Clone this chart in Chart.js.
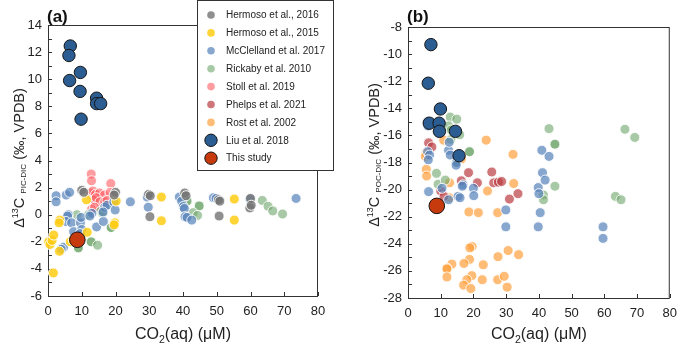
<!DOCTYPE html>
<html lang="en">
<head>
  <meta charset="UTF-8" />
  <title>Δ13C vs CO2(aq)</title>
  <script src="https://cdn.jsdelivr.net/npm/chart.js"></script>
  <style>
    body { margin: 0; background: #fff; width: 685px; height: 345px; overflow: hidden; position: relative; }
    canvas { position: absolute; top: 0; }
    #chartA { left: 0; }
    #chartB { left: 340px; }
  </style>
</head>
<body>
  <canvas id="chartA" width="340" height="345"></canvas>
  <canvas id="chartB" width="345" height="345"></canvas>

  <script>
    // series names (legend order)
    const seriesNames = [
      'Hermoso et al., 2016', 'Hermoso et al., 2015', 'McClelland et al. 2017',
      'Rickaby et al. 2010', 'Stoll et al. 2019', 'Phelps et al. 2021',
      'Rost et al. 2002', 'Liu et al. 2018', 'This study'
    ];

    const xTicks = [0, 10, 20, 30, 40, 50, 60, 70, 80];
    const yTicksA = [-6, -4, -2, 0, 2, 4, 6, 8, 10, 12, 14];
    const yTicksB = [-28, -26, -24, -22, -20, -18, -16, -14, -12, -10, -8];

    // panel (a): [CO2(aq), Δ13C PIC-DIC]
    const aHermoso16 = [[10.0,1.8],[10.6,1.65],[20.0,1.65],[19.6,1.45],[29.8,1.5],[30.3,1.4],[30.2,-0.15],
      [40.5,1.6],[40.9,1.4],[50.5,1.1],[50.9,1.0],[50.7,-0.1],[60.0,1.2],[59.8,0.5],[60.2,0.7]];
    const aHermoso15 = [[0.2,-2.0],[0.6,-2.2],[1.2,-1.9],[1.7,-1.5],[1.6,-4.3],[3.4,-2.7],[3.5,-0.4],[3.3,-0.6],
      [6.6,-2.0],[7.5,-1.9],[11.6,-1.3],[11.4,1.1],[19.8,-0.6],[19.6,-0.75],[20.2,1.0],[33.6,1.3],[33.6,-0.45],
      [55.2,1.15],[55.2,-0.4]];
    const aMcClelland = [[2.4,1.4],[2.4,0.95],[5.4,1.45],[6.4,1.65],[6.0,0.0],[5.8,-0.1],[5.3,-0.5],[7.0,-0.6],
      [9.6,-0.6],[9.8,-0.2],[7.6,-1.25],[10.0,-1.1],[9.5,-1.4],[4.6,-2.4],[3.9,-2.55],[13.0,0.1],[14.4,-0.9],
      [16.4,-0.5],[16.8,0.55],[17.5,0.7],[16.3,0.2],[19.5,0.95],[19.9,0.35],[12.4,-0.1],[24.4,0.95],[29.4,1.3],
      [29.7,0.55],[38.9,1.3],[39.6,1.0],[40.1,0.6],[40.4,0.45],[40.6,-0.15],[41.2,-0.2],[42.6,-0.4],[49.0,1.25],
      [49.8,1.2],[59.8,1.15],[73.5,1.2]];
    const aRickaby = [[8.6,0.0],[12.0,0.0],[15.6,0.25],[16.2,0.1],[18.7,-0.95],[18.7,-0.95],[12.8,-2.0],[12.8,-2.0],
      [14.7,-2.25],[9.0,-2.45],[9.0,-2.45],[19.6,0.9],[41.2,1.0],[41.2,1.0],[44.8,0.65],[44.8,0.65],[43.0,0.15],
      [44.3,-0.05],[63.5,1.05],[65.2,0.62],[66.6,0.28],[69.5,0.05]];
    const aStoll = [[12.8,3.0],[12.9,2.5],[18.6,2.3],[12.5,1.6],[13.3,1.75],[14.1,1.5],[15.3,1.6],[16.7,1.45],
      [18.4,1.65],[13.6,1.1],[14.3,1.25],[15.4,0.95],[16.8,0.95],[17.5,1.05],[12.9,0.4],[13.8,0.55]];
    const aLiu = [[6.6,12.45],[6.2,11.75],[9.6,10.5],[6.4,9.9],[9.5,9.1],[14.4,8.6],[14.4,8.2],[15.6,8.2],[9.8,7.05]];
    const aThisStudy = [[8.7,-1.85]];

    // panel (b): [CO2(aq), Δ13C POC-DIC]
    const bMcClelland = [[6.0,-15.0],[6.1,-15.3],[6.0,-17.2],[6.6,-17.45],[6.2,-17.8],[12.4,-17.1],[12.6,-16.5],
      [12.9,-17.45],[14.9,-18.0],[14.7,-18.2],[6.3,-20.15],[16.8,-19.65],[16.6,-19.75],[20.0,-19.9],[20.1,-20.45],
      [15.3,-20.5],[15.9,-20.6],[12.4,-20.75],[10.4,-19.9],[29.9,-21.5],[29.9,-22.75],[39.8,-22.75],[40.4,-21.7],
      [40.9,-17.1],[43.1,-17.55],[41.1,-18.75],[41.9,-19.3],[39.8,-19.85],[40.0,-20.3],[59.6,-22.75],[59.6,-23.6]];
    const bRickaby = [[12.9,-14.65],[14.9,-14.8],[12.4,-15.3],[13.2,-15.6],[15.8,-15.95],[13.1,-16.3],[18.8,-17.2],
      [18.8,-17.2],[14.7,-18.0],[8.7,-18.8],[9.2,-19.6],[11.4,-19.3],[43.1,-15.5],[44.9,-16.65],[44.9,-16.65],
      [44.9,-19.75],[41.4,-20.4],[41.4,-20.75],[63.4,-20.5],[65.1,-20.75],[66.3,-15.55],[69.3,-16.15]];
    const bPhelps = [[6.3,-16.55],[7.3,-16.85],[18.5,-18.75],[16.3,-19.35],[21.2,-19.5],[25.6,-18.7],[26.2,-19.5],
      [27.6,-19.45],[28.6,-19.4],[33.6,-20.3],[31.0,-20.7],[10.0,-20.1],[11.0,-20.5]];
    const bRost = [[10.9,-16.35],[23.9,-16.35],[32.1,-17.4],[5.5,-17.3],[5.3,-17.55],[5.6,-18.5],[5.7,-19.0],
      [16.3,-17.5],[16.3,-17.75],[12.7,-19.5],[24.3,-20.1],[32.3,-19.55],[12.6,-20.6],[18.6,-21.65],[21.5,-21.7],
      [27.4,-21.7],[19.6,-24.2],[18.9,-24.3],[30.6,-24.5],[33.8,-24.8],[27.5,-24.95],[18.8,-25.15],[17.1,-25.45],
      [13.4,-25.5],[23.0,-25.55],[11.9,-25.8],[11.9,-25.85],[11.9,-26.45],[19.5,-26.35],[18.0,-26.65],[22.7,-26.65],
      [27.4,-26.65],[29.4,-26.4],[17.0,-27.05],[19.2,-27.3],[30.3,-27.2]];
    const bLiu = [[7.0,-9.3],[6.2,-12.15],[9.9,-14.05],[6.5,-15.1],[9.5,-15.1],[9.6,-15.7],[14.5,-15.7],[15.6,-17.5]];
    const bThisStudy = [[8.8,-21.2]];

    const panelA = [aHermoso16, aHermoso15, aMcClelland, aRickaby, aStoll, [], [], aLiu, aThisStudy];
    const panelB = [[], [], bMcClelland, bRickaby, [], bPhelps, bRost, bLiu, bThisStudy];

    // styles
    const fills = ['rgba(115,115,115,0.8)', 'rgba(255,205,20,0.85)', 'rgba(85,130,185,0.7)',
      'rgba(110,165,105,0.6)', 'rgba(255,90,95,0.6)', 'rgba(185,60,65,0.7)',
      'rgba(255,160,60,0.7)', '#2c5d92', '#c63a0e'];
    const isBig = [false, false, false, false, false, false, false, true, true];
    const radii = [5, 5, 5, 5, 5, 5, 5, 6.2, 7.8];

    const FONT = "'Liberation Sans', Arial, sans-serif";
    Chart.defaults.font.family = FONT;

    function toPoints(pairs) {
      return pairs.map(p => ({ x: p[0], y: p[1] }));
    }

    function makeDatasets(panel) {
      return seriesNames.map((name, i) => ({
        label: name,
        data: toPoints(panel[i]),
        backgroundColor: fills[i],
        borderColor: isBig[i] ? '#151515' : 'rgba(255,255,255,0.9)',
        borderWidth: 1,
        pointRadius: radii[i],
        order: isBig[i] ? -i : 0,
        clip: false
      }));
    }

    // draws text made of pieces (sub/superscripts), centred at cx,cy
    function richText(ctx, parts, cx, cy, rotate) {
      ctx.save();
      ctx.translate(cx, cy);
      if (rotate) ctx.rotate(-Math.PI / 2);
      ctx.fillStyle = '#222';
      ctx.textBaseline = 'alphabetic';
      let total = 0;
      parts.forEach(p => {
        ctx.font = p.size + 'px ' + FONT;
        p.w = ctx.measureText(p.t).width;
        total += p.w;
      });
      let x = -total / 2;
      parts.forEach(p => {
        ctx.font = p.size + 'px ' + FONT;
        ctx.fillText(p.t, x, 5.5 + (p.dy || 0));
        x += p.w;
      });
      ctx.restore();
    }

    const decor = {
      id: 'decor',
      beforeDatasetsDraw(chart, args, o) {
        const { ctx, chartArea: a, scales: { x, y } } = chart;
        ctx.save();
        ctx.strokeStyle = '#333';
        ctx.lineWidth = 1;
        ctx.strokeRect(a.left + 0.5, a.top + 0.5, a.right - a.left - 1, a.bottom - a.top);
        ctx.beginPath();
        for (let v = y.min; v <= y.max; v += 1) {
          const py = Math.round(y.getPixelForValue(v)) + 0.5;
          ctx.moveTo(a.left, py);
          ctx.lineTo(a.left + 4, py);
        }
        xTicks.forEach(v => {
          const px = Math.round(x.getPixelForValue(v)) + 0.5;
          ctx.moveTo(px, a.bottom);
          ctx.lineTo(px, a.bottom - 4);
        });
        ctx.stroke();
        ctx.restore();
      },
      afterDraw(chart, args, o) {
        const { ctx, chartArea: a } = chart;
        const cx = (a.left + a.right) / 2;

        // panel letter
        ctx.save();
        ctx.fillStyle = '#111';
        ctx.font = 'bold 17px ' + FONT;
        ctx.textBaseline = 'alphabetic';
        ctx.fillText(o.letter, a.left - 1, 22);
        ctx.restore();

        richText(ctx, [
          { t: 'CO', size: 16 }, { t: '2', size: 10.5, dy: 4 }, { t: '(aq) (μM)', size: 16 }
        ], cx, 333, false);

        richText(ctx, [
          { t: 'Δ', size: 14.5 }, { t: '13', size: 9, dy: -6 }, { t: 'C ', size: 14.5 },
          { t: o.sub, size: 8, dy: 2 }, { t: ' (‰, VPDB)', size: 14.5 }
        ], o.yTitleX, o.yTitleY, true);

        if (o.legend) {
          const L = 197.5, T = 0.5, W = 136, H = 170;
          ctx.save();
          ctx.fillStyle = '#fff';
          ctx.fillRect(L, T, W, H);
          ctx.strokeStyle = '#333';
          ctx.lineWidth = 1;
          ctx.strokeRect(L, T, W, H);
          ctx.font = '10px ' + FONT;
          ctx.textBaseline = 'middle';
          chart.data.datasets.forEach((ds, i) => {
            const ry = 15 + i * 17.9;
            ctx.beginPath();
            ctx.arc(211, ry, isBig[i] ? 6.2 : 3.8, 0, Math.PI * 2);
            ctx.fillStyle = ds.backgroundColor;
            ctx.fill();
            if (isBig[i]) {
              ctx.strokeStyle = '#151515';
              ctx.stroke();
            }
            ctx.fillStyle = '#222';
            ctx.fillText(ds.label, 226, ry + 0.5);
          });
          ctx.restore();
        }
      }
    };

    function makeChart(id, panel, yMin, yMax, yWidth, pad, xHeight, deco) {
      return new Chart(document.getElementById(id), {
        type: 'scatter',
        data: { datasets: makeDatasets(panel) },
        options: {
          responsive: false,
          animation: false,
          events: [],
          layout: { padding: pad },
          plugins: { legend: { display: false }, tooltip: { enabled: false }, decor: deco },
          scales: {
            x: {
              min: 0, max: 80,
              afterFit: s => { s.height = xHeight; },
              afterBuildTicks: s => { s.ticks = xTicks.map(v => ({ value: v })); },
              grid: { display: false, drawTicks: false },
              border: { display: false },
              ticks: { color: '#222', font: { size: 13 }, padding: 8, maxRotation: 0 }
            },
            y: {
              min: yMin, max: yMax,
              afterFit: s => { s.width = yWidth; },
              afterBuildTicks: s => { s.ticks = deco.yTicks.map(v => ({ value: v })); },
              grid: { display: false, drawTicks: false },
              border: { display: false },
              ticks: { color: '#222', font: { size: 13 }, padding: 6 }
            }
          }
        },
        plugins: [decor]
      });
    }

    makeChart('chartA', panelA, -6, 14, 48, { top: 25, right: 22, bottom: 0, left: 0 }, 49,
      { letter: '(a)', sub: 'PIC-DIC', yTitleX: 18, yTitleY: 158, legend: true, yTicks: yTicksA });

    makeChart('chartB', panelB, -28, -8, 68, { top: 27, right: 6, bottom: 0, left: 0 }, 47,
      { letter: '(b)', sub: 'POC-DIC', yTitleX: 33, yTitleY: 155, legend: false, yTicks: yTicksB });
  </script>
</body>
</html>
